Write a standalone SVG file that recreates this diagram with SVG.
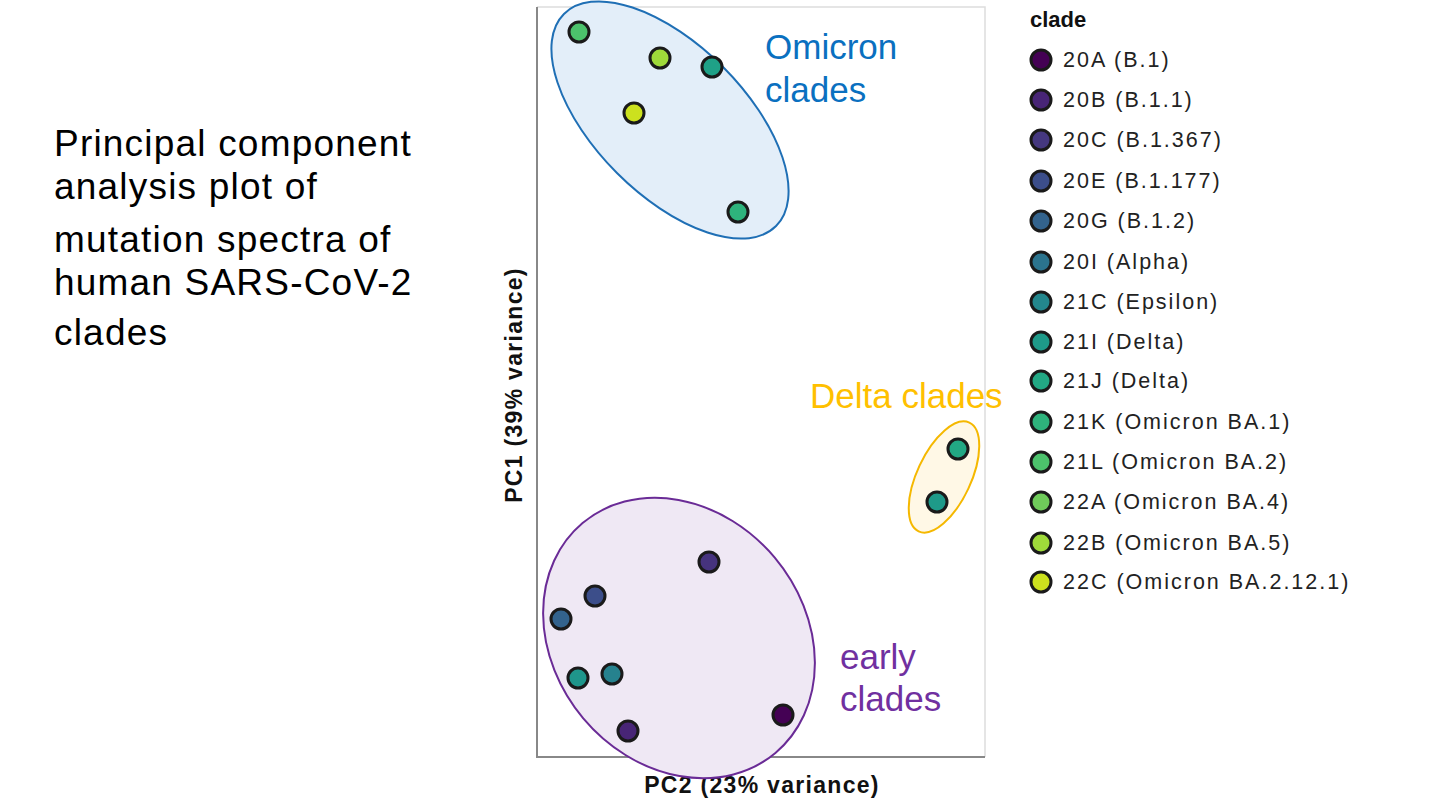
<svg xmlns="http://www.w3.org/2000/svg" width="1440" height="810" viewBox="0 0 1440 810">
<style>
.t{font-family:"Liberation Sans",Arial,sans-serif}
.pt{stroke:#1a1a1a;stroke-width:3}
.lg{font-family:"Liberation Sans",Arial,sans-serif;font-size:21.5px;letter-spacing:2px;fill:#222}
.ax{font-family:"Liberation Sans",Arial,sans-serif;font-size:23px;letter-spacing:1.3px;font-weight:bold;fill:#111}
.big{font-family:"Liberation Sans",Arial,sans-serif;font-size:37px;letter-spacing:1.2px}
.lab{font-family:"Liberation Sans",Arial,sans-serif;font-size:35px}
</style>
<rect width="1440" height="810" fill="#fff"/>
<g id="title"><text class="big" fill="#000"><tspan x="54" y="156">Principal component</tspan><tspan x="54" y="199">analysis plot of</tspan><tspan x="54" y="252">mutation spectra of</tspan><tspan x="54" y="295">human SARS-CoV-2</tspan><tspan x="54" y="345">clades</tspan></text></g>
<g id="plot">
<path d="M537 7 H985 V757" fill="none" stroke="#ddd" stroke-width="1.5"/>
<path d="M537 7 V757 H985" fill="none" stroke="#888" stroke-width="2"/>
<text class="ax" x="762" y="793" text-anchor="middle">PC2 (23% variance)</text>
<text class="ax" transform="translate(522,385) rotate(-90)" text-anchor="middle">PC1 (39% variance)</text>
</g>
<g id="omicron">
<ellipse cx="670" cy="120" rx="150" ry="75" transform="rotate(45 670 120)" fill="#e3eef9" stroke="#1f6fb5" stroke-width="2"/>
<text class="lab" fill="#0a70c0"><tspan x="765" y="59">Omicron</tspan><tspan x="765" y="102">clades</tspan></text>
</g>
<g id="delta">
<ellipse cx="944" cy="477" rx="60" ry="27" transform="rotate(-65 944 477)" fill="#fff8e6" stroke="#f5b800" stroke-width="2"/>
<text class="lab" fill="#ffc000" x="810" y="408">Delta clades</text>
</g>
<g id="early">
<ellipse cx="679" cy="638" rx="150" ry="125" transform="rotate(50 679 638)" fill="#efe8f4" stroke="#6a2b96" stroke-width="2"/>
<text class="lab" fill="#7030a0"><tspan x="840" y="669">early</tspan><tspan x="840" y="711">clades</tspan></text>
</g>
<g id="points">
<circle class="pt" cx="579" cy="32" r="10" fill="#4cc26c"/>
<circle class="pt" cx="660" cy="58" r="10" fill="#9fda3a"/>
<circle class="pt" cx="712" cy="67" r="10" fill="#1fa187"/>
<circle class="pt" cx="634" cy="113" r="10" fill="#cce11e"/>
<circle class="pt" cx="738" cy="212" r="10" fill="#2eb37c"/>
<circle class="pt" cx="958" cy="449" r="10" fill="#22a884"/>
<circle class="pt" cx="937" cy="502" r="10" fill="#1e9a89"/>
<circle class="pt" cx="709" cy="562" r="10" fill="#46337e"/>
<circle class="pt" cx="595" cy="596" r="10" fill="#3c4e8a"/>
<circle class="pt" cx="561" cy="619" r="10" fill="#33638d"/>
<circle class="pt" cx="578" cy="678" r="10" fill="#1f968b"/>
<circle class="pt" cx="612" cy="674" r="10" fill="#26828e"/>
<circle class="pt" cx="628" cy="731" r="10" fill="#482576"/>
<circle class="pt" cx="783" cy="715" r="10" fill="#440154"/>
</g>
<g id="legend">
<text class="t" x="1030" y="27" font-size="22" font-weight="bold" fill="#111">clade</text>
<circle class="pt" cx="1041" cy="60" r="10" fill="#440154"/><text class="lg" x="1063" y="67">20A (B.1)</text>
<circle class="pt" cx="1041" cy="100" r="10" fill="#482576"/><text class="lg" x="1063" y="107">20B (B.1.1)</text>
<circle class="pt" cx="1041" cy="140" r="10" fill="#45387f"/><text class="lg" x="1063" y="147">20C (B.1.367)</text>
<circle class="pt" cx="1041" cy="181" r="10" fill="#3c4e8a"/><text class="lg" x="1063" y="188">20E (B.1.177)</text>
<circle class="pt" cx="1041" cy="221" r="10" fill="#33638d"/><text class="lg" x="1063" y="228">20G (B.1.2)</text>
<circle class="pt" cx="1041" cy="262" r="10" fill="#2b748e"/><text class="lg" x="1063" y="269">20I (Alpha)</text>
<circle class="pt" cx="1041" cy="302" r="10" fill="#23878d"/><text class="lg" x="1063" y="309">21C (Epsilon)</text>
<circle class="pt" cx="1041" cy="342" r="10" fill="#1e9a89"/><text class="lg" x="1063" y="349">21I (Delta)</text>
<circle class="pt" cx="1041" cy="381" r="10" fill="#22a884"/><text class="lg" x="1063" y="388">21J (Delta)</text>
<circle class="pt" cx="1041" cy="422" r="10" fill="#2eb37c"/><text class="lg" x="1063" y="429">21K (Omicron BA.1)</text>
<circle class="pt" cx="1041" cy="462" r="10" fill="#4cc26c"/><text class="lg" x="1063" y="469">21L (Omicron BA.2)</text>
<circle class="pt" cx="1041" cy="502" r="10" fill="#6fcc5a"/><text class="lg" x="1063" y="509">22A (Omicron BA.4)</text>
<circle class="pt" cx="1041" cy="543" r="10" fill="#9fda3a"/><text class="lg" x="1063" y="550">22B (Omicron BA.5)</text>
<circle class="pt" cx="1041" cy="582" r="10" fill="#cce11e"/><text class="lg" x="1063" y="589">22C (Omicron BA.2.12.1)</text>
</g>
</svg>
